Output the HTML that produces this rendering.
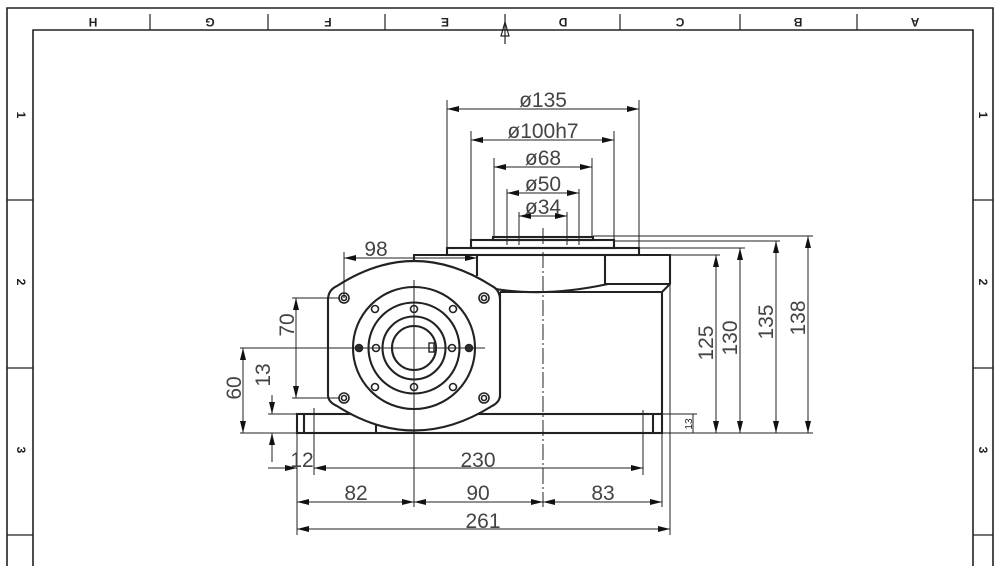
<!DOCTYPE html>
<html><head><meta charset="utf-8"><style>
html,body{margin:0;padding:0;background:#fff;width:1000px;height:566px;overflow:hidden}
svg{display:block}
text{font-family:"Liberation Sans",sans-serif;fill:#444;font-size:21px}
.t{font-size:12px;fill:#222;font-weight:600}
.s{font-size:10px;fill:#222}
</style></head><body>
<svg width="1000" height="566" viewBox="0 0 1000 566">
<defs>
<marker id="a" viewBox="0 0 12 6" refX="12" refY="3" markerWidth="12" markerHeight="6" markerUnits="userSpaceOnUse" orient="auto-start-reverse"><path d="M0,0 L12,3 L0,6 z" fill="#111"/></marker>
</defs>
<g fill="none" stroke="#222">
<path d="M7,566 L7,8 L993,8 L993,566" stroke-width="1.6"/>
<path d="M33,566 L33,30 L973,30 L973,566" stroke-width="1.6"/>
<g stroke-width="1.2">
<line x1="150" y1="14" x2="150" y2="30"/><line x1="268" y1="14" x2="268" y2="30"/><line x1="385" y1="14" x2="385" y2="30"/><line x1="505" y1="14" x2="505" y2="44"/><line x1="620" y1="14" x2="620" y2="30"/><line x1="740" y1="14" x2="740" y2="30"/><line x1="857" y1="14" x2="857" y2="30"/>
<line x1="7" y1="200" x2="33" y2="200"/><line x1="7" y1="368" x2="33" y2="368"/><line x1="7" y1="535" x2="33" y2="535"/>
<line x1="973" y1="200" x2="993" y2="200"/><line x1="973" y1="368" x2="993" y2="368"/><line x1="973" y1="535" x2="993" y2="535"/>
</g>
<path d="M505,22 L501,36 L509,36 Z" stroke-width="1.2"/>
<g stroke-width="2.1">
<rect x="493" y="237" width="100" height="3"/>
<rect x="471" y="240" width="143" height="8"/>
<rect x="447" y="248" width="192" height="7"/>
<path d="M414,262 L414,255 L670,255 L670,284 L662,292 L662,414"/>
<path d="M605,255 L605,284 L670,284"/>
<path d="M500,292 L662,292"/>
<path d="M490,288 Q543,298 608,284"/>
<line x1="477" y1="256" x2="477" y2="276"/>
<rect x="297" y="414" width="365" height="19"/>
<line x1="304" y1="414" x2="304" y2="433"/><line x1="653" y1="414" x2="653" y2="433"/>
<line x1="376" y1="420" x2="376" y2="433"/>
<line x1="500" y1="292" x2="500" y2="398"/>
<path d="M328,300 Q328,290 337,286 Q414,236 492,286 Q500,290 500,300 L500,395 Q500,402 492,406 Q414,455 337,406 Q328,402 328,395 Z" fill="#fff"/>
<circle cx="414" cy="348" r="61"/>
<circle cx="414" cy="348" r="45.5"/>
<circle cx="414" cy="348" r="31.5"/>
<circle cx="414" cy="348" r="22"/>
<rect x="429" y="343" width="5" height="9" stroke-width="1.4"/>
</g>
<g stroke-width="1.6">
<circle cx="344" cy="298" r="5"/><circle cx="344" cy="298" r="2.5"/>
<circle cx="484" cy="298" r="5"/><circle cx="484" cy="298" r="2.5"/>
<circle cx="344" cy="398" r="5"/><circle cx="344" cy="398" r="2.5"/>
<circle cx="484" cy="398" r="5"/><circle cx="484" cy="398" r="2.5"/>
<circle cx="414" cy="309" r="3.5"/><circle cx="414" cy="387" r="3.5"/><circle cx="376" cy="348" r="3.5"/><circle cx="452" cy="348" r="3.5"/>
<circle cx="375" cy="309" r="3.5"/><circle cx="453" cy="309" r="3.5"/><circle cx="375" cy="387" r="3.5"/><circle cx="453" cy="387" r="3.5"/>
<circle cx="359" cy="348" r="3.5" fill="#333"/><circle cx="469" cy="348" r="3.5" fill="#333"/>
</g>
<g stroke-width="1">
<line x1="543" y1="228" x2="543" y2="507" stroke-dasharray="16,3,2,3"/>
<line x1="414" y1="280" x2="414" y2="507"/>
<line x1="240" y1="348" x2="485" y2="348"/>
</g>
<g stroke-width="1">
<line x1="447" y1="100" x2="447" y2="248"/><line x1="639" y1="100" x2="639" y2="248"/>
<line x1="471" y1="131" x2="471" y2="240"/><line x1="614" y1="131" x2="614" y2="240"/>
<line x1="494" y1="158" x2="494" y2="237"/><line x1="592" y1="158" x2="592" y2="237"/>
<line x1="507" y1="189" x2="507" y2="245"/><line x1="579" y1="189" x2="579" y2="245"/>
<line x1="519" y1="212" x2="519" y2="245"/><line x1="567" y1="212" x2="567" y2="245"/>
<line x1="447" y1="109" x2="639" y2="109" marker-start="url(#a)" marker-end="url(#a)"/>
<line x1="471" y1="140" x2="614" y2="140" marker-start="url(#a)" marker-end="url(#a)"/>
<line x1="494" y1="167" x2="592" y2="167" marker-start="url(#a)" marker-end="url(#a)"/>
<line x1="507" y1="193" x2="579" y2="193" marker-start="url(#a)" marker-end="url(#a)"/>
<line x1="519" y1="216" x2="567" y2="216" marker-start="url(#a)" marker-end="url(#a)"/>
<line x1="593" y1="236" x2="813" y2="236"/><line x1="614" y1="241" x2="780" y2="241"/><line x1="639" y1="248" x2="745" y2="248"/><line x1="670" y1="255" x2="720" y2="255"/>
<line x1="662" y1="433" x2="813" y2="433"/>
<line x1="716" y1="255" x2="716" y2="433" marker-start="url(#a)" marker-end="url(#a)"/>
<line x1="740" y1="248" x2="740" y2="433" marker-start="url(#a)" marker-end="url(#a)"/>
<line x1="776" y1="241" x2="776" y2="433" marker-start="url(#a)" marker-end="url(#a)"/>
<line x1="808" y1="236" x2="808" y2="433" marker-start="url(#a)" marker-end="url(#a)"/>
<line x1="662" y1="414" x2="697" y2="414"/>
<line x1="693" y1="414" x2="693" y2="433"/>
<line x1="344" y1="252" x2="344" y2="298"/>
<line x1="344" y1="258" x2="477" y2="258" marker-start="url(#a)" marker-end="url(#a)"/>
<line x1="292" y1="298" x2="340" y2="298"/><line x1="292" y1="398" x2="340" y2="398"/>
<line x1="296" y1="298" x2="296" y2="398" marker-start="url(#a)" marker-end="url(#a)"/>
<line x1="240" y1="433" x2="297" y2="433"/><line x1="268" y1="414" x2="297" y2="414"/>
<line x1="243" y1="348" x2="243" y2="433" marker-start="url(#a)" marker-end="url(#a)"/>
<line x1="272" y1="395" x2="272" y2="414" marker-end="url(#a)"/>
<line x1="272" y1="462" x2="272" y2="433" marker-end="url(#a)"/>
<line x1="297" y1="433" x2="297" y2="535"/><line x1="670" y1="284" x2="670" y2="535"/>
<line x1="662" y1="433" x2="662" y2="507"/>
<line x1="314" y1="408" x2="314" y2="475"/><line x1="643" y1="410" x2="643" y2="475"/>
<line x1="268" y1="468" x2="297" y2="468" marker-end="url(#a)"/>
<line x1="314" y1="468" x2="643" y2="468" marker-start="url(#a)" marker-end="url(#a)"/>
<line x1="297" y1="502" x2="414" y2="502" marker-start="url(#a)" marker-end="url(#a)"/>
<line x1="414" y1="502" x2="543" y2="502" marker-start="url(#a)" marker-end="url(#a)"/>
<line x1="543" y1="502" x2="662" y2="502" marker-start="url(#a)" marker-end="url(#a)"/>
<line x1="297" y1="529" x2="670" y2="529" marker-start="url(#a)" marker-end="url(#a)"/>
</g>
</g>
<g text-anchor="middle">
<text x="543" y="107">ø135</text>
<text x="543" y="138">ø100h7</text>
<text x="543" y="165">ø68</text>
<text x="543" y="191">ø50</text>
<text x="543" y="214">ø34</text>
<text x="376" y="256">98</text>
<text x="478" y="467">230</text>
<text x="302" y="467">12</text>
<text x="356" y="500">82</text>
<text x="478" y="500">90</text>
<text x="603" y="500">83</text>
<text x="483" y="528">261</text>
<text transform="translate(713,343) rotate(-90)">125</text>
<text transform="translate(737,338) rotate(-90)">130</text>
<text transform="translate(773,322) rotate(-90)">135</text>
<text transform="translate(805,318) rotate(-90)">138</text>
<text transform="translate(294,325) rotate(-90)">70</text>
<text transform="translate(241,388) rotate(-90)">60</text>
<text transform="translate(270,375) rotate(-90)">13</text>
<text class="s" transform="translate(692,424) rotate(-90)">13</text>
<text transform="translate(93,18) rotate(180)" class="t">H</text>
<text transform="translate(210,18) rotate(180)" class="t">G</text>
<text transform="translate(328,18) rotate(180)" class="t">F</text>
<text transform="translate(445,18) rotate(180)" class="t">E</text>
<text transform="translate(563,18) rotate(180)" class="t">D</text>
<text transform="translate(680,18) rotate(180)" class="t">C</text>
<text transform="translate(798,18) rotate(180)" class="t">B</text>
<text transform="translate(915,18) rotate(180)" class="t">A</text>
<text transform="translate(17,115) rotate(90)" class="t">1</text>
<text transform="translate(17,282) rotate(90)" class="t">2</text>
<text transform="translate(17,450) rotate(90)" class="t">3</text>
<text transform="translate(979,115) rotate(90)" class="t">1</text>
<text transform="translate(979,282) rotate(90)" class="t">2</text>
<text transform="translate(979,450) rotate(90)" class="t">3</text>
</g>
</svg>
</body></html>
